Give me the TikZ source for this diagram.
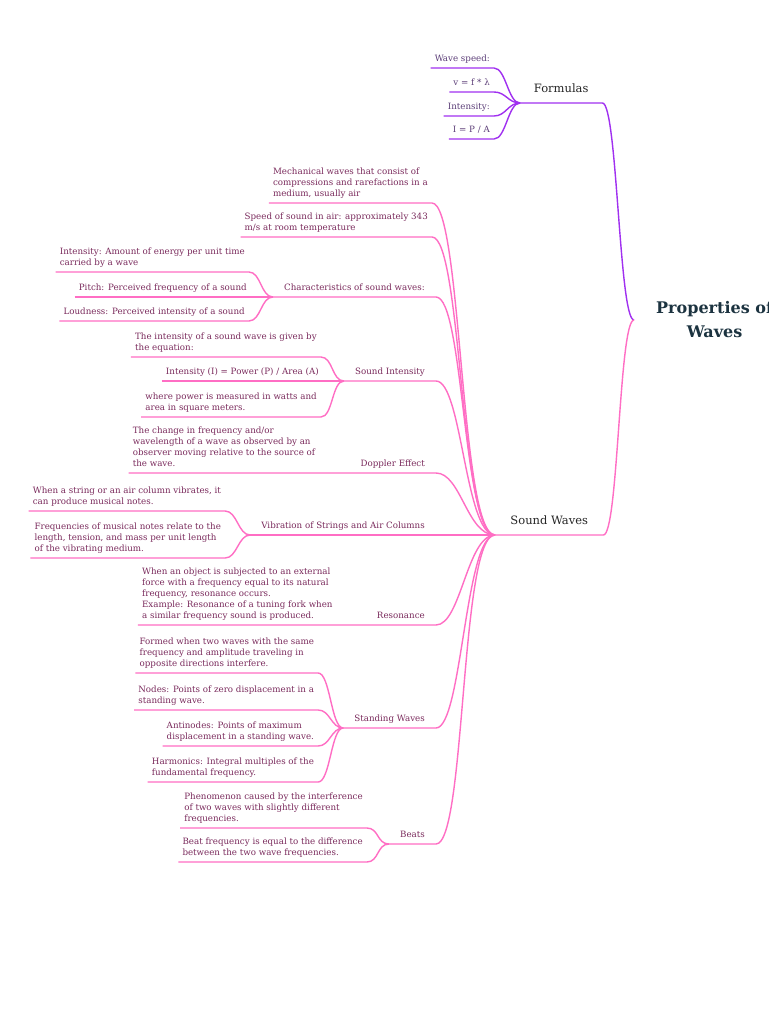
\documentclass[tikz,border=0pt]{standalone}
\usepackage{fontspec}
\setmainfont{DejaVu Serif}
\usetikzlibrary{positioning,calc}

\definecolor{mappurple}{HTML}{A030F0}
\definecolor{mappink}{HTML}{FF6EC4}
\definecolor{leafpink}{HTML}{7A2A5C}
\definecolor{leafpurple}{HTML}{5C3E78}
\definecolor{titlecol}{HTML}{1C3340}

\begin{document}
\begin{tikzpicture}[
        x=1pt, y=-1pt,
        leaf/.style={anchor=south east, align=left, inner xsep=4pt, inner ysep=4pt, text depth=2.5pt, text=leafpink, font=\fontsize{8.7}{11}\selectfont},
        fleaf/.style={leaf, text=leafpurple},
        topic/.style={leaf, inner xsep=11pt},
        main/.style={anchor=south west, inner ysep=8pt, text depth=2.5pt, text=black!85, font=\fontsize{11.5}{13}\selectfont},
        pinkline/.style={draw=mappink, line width=1.4pt},
        purpleline/.style={draw=mappurple, line width=1.4pt}
    ]

    \fill[white] (0,0) rectangle (768,1024);
    \useasboundingbox (0,0) rectangle (768,1024);

    \node[anchor=west, align=center, inner xsep=22pt, text=titlecol, font=\fontsize{16}{24}\selectfont\bfseries] (title) at (634,320) {Properties of\\Waves};
    \node[main, minimum width=82pt] (formulas) at (520,103) {Formulas};
    \node[main, minimum width=108pt] (sound) at (495,535) {Sound Waves};

    % formulas
    \node[fleaf] (wspeed) at (494,68) {Wave speed:};
    \node[fleaf] (vfl) at (494,92) {v = f * λ};
    \node[fleaf] (intens) at (494,116) {Intensity:};
    \node[fleaf] (ipa) at (494,139) {I = P / A};

    % sound waves
    \node[leaf] (mech) at (432,203) {Mechanical waves that consist of\\compressions and rarefactions in a\\medium, usually air};
    \node[leaf] (speed) at (432,237) {Speed of sound in air: approximately 343\\m/s at room temperature};
    \node[topic] (charac) at (436,297) {Characteristics of sound waves:};
    \node[topic] (intensity) at (436,381) {Sound Intensity};
    \node[topic] (doppler) at (436,473) {Doppler Effect};
    \node[topic] (vibration) at (436,535) {Vibration of Strings and Air Columns};
    \node[topic] (resonance) at (436,625) {Resonance};
    \node[topic] (standing) at (436,728) {Standing Waves};
    \node[topic] (beats) at (436,844) {Beats};

    \node[leaf] (amount) at ($(charac.south west)+(-24,-25)$) {Intensity: Amount of energy per unit time\\carried by a wave};
    \node[leaf] (pitch) at ($(charac.south west)+(-22,0)$) {Pitch: Perceived frequency of a sound};
    \node[leaf] (loud) at ($(charac.south west)+(-24,24)$) {Loudness: Perceived intensity of a sound};

    \node[leaf] (given) at ($(intensity.south west)+(-23,-24)$) {The intensity of a sound wave is given by\\the equation:};
    \node[leaf] (equation) at ($(intensity.south west)+(-21,0)$) {Intensity (I) = Power (P) / Area (A)};
    \node[leaf] (watts) at ($(intensity.south west)+(-23,36)$) {where power is measured in watts and\\area in square meters.};

    \node[leaf] (change) at ($(doppler.south west)+(-30,0)$) {The change in frequency and/or\\wavelength of a wave as observed by an\\observer moving relative to the source of\\the wave.};

    \node[leaf] (string) at ($(vibration.south west)+(-25,-24)$) {When a string or an air column vibrates, it\\can produce musical notes.};
    \node[leaf] (notes) at ($(vibration.south west)+(-25,23)$) {Frequencies of musical notes relate to the\\length, tension, and mass per unit length\\of the vibrating medium.};

    \node[leaf] (object) at ($(resonance.south west)+(-29,0)$) {When an object is subjected to an external\\force with a frequency equal to its natural\\frequency, resonance occurs.\\Example: Resonance of a tuning fork when\\a similar frequency sound is produced.};

    \node[leaf] (formed) at ($(standing.south west)+(-25,-55)$) {Formed when two waves with the same\\frequency and amplitude traveling in\\opposite directions interfere.};
    \node[leaf] (zero) at ($(standing.south west)+(-25,-18)$) {Nodes: Points of zero displacement in a\\standing wave.};
    \node[leaf] (maximum) at ($(standing.south west)+(-25,18)$) {Antinodes: Points of maximum\\displacement in a standing wave.};
    \node[leaf] (harmonics) at ($(standing.south west)+(-25,54)$) {Harmonics: Integral multiples of the\\fundamental frequency.};

    \node[leaf] (phenomenon) at ($(beats.south west)+(-22,-16)$) {Phenomenon caused by the interference\\of two waves with slightly different\\frequencies.};
    \node[leaf] (beatfreq) at ($(beats.south west)+(-22,18)$) {Beat frequency is equal to the difference\\between the two wave frequencies.};

    % main branches
    \draw[purpleline] (formulas.south west) -- (formulas.south east) .. controls +(15,0) and +(-15,0) .. (title.west);
    \draw[pinkline] (sound.south west) -- (sound.south east) .. controls +(15,0) and +(-15,0) .. (title.west);

    \draw[purpleline] (wspeed.south west) -- (wspeed.south east) .. controls +(12,0) and +(-12,0) .. (formulas.south west);
    \draw[purpleline] (vfl.south west) -- (vfl.south east) .. controls +(12,0) and +(-12,0) .. (formulas.south west);
    \draw[purpleline] (intens.south west) -- (intens.south east) .. controls +(12,0) and +(-12,0) .. (formulas.south west);
    \draw[purpleline] (ipa.south west) -- (ipa.south east) .. controls +(12,0) and +(-12,0) .. (formulas.south west);

    \draw[pinkline] (mech.south west) -- (mech.south east) .. controls +(30,0) and +(-35,0) .. (sound.south west);
    \draw[pinkline] (speed.south west) -- (speed.south east) .. controls +(30,0) and +(-35,0) .. (sound.south west);
    \draw[pinkline] (charac.south west) -- (charac.south east) .. controls +(28,0) and +(-32,0) .. (sound.south west);
    \draw[pinkline] (intensity.south west) -- (intensity.south east) .. controls +(26,0) and +(-30,0) .. (sound.south west);
    \draw[pinkline] (change.south west) -- (change.south east) -- (doppler.south west) -- (doppler.south east) .. controls +(25,0) and +(-28,0) .. (sound.south west);
    \draw[pinkline] (vibration.south west) -- (sound.south west);
    \draw[pinkline] (object.south west) -- (object.south east) -- (resonance.south west) -- (resonance.south east) .. controls +(25,0) and +(-28,0) .. (sound.south west);
    \draw[pinkline] (standing.south west) -- (standing.south east) .. controls +(26,0) and +(-30,0) .. (sound.south west);
    \draw[pinkline] (beats.south west) -- (beats.south east) .. controls +(30,0) and +(-35,0) .. (sound.south west);

    % second level
    \draw[pinkline] (amount.south west) -- (amount.south east) .. controls +(12,0) and +(-12,0) .. (charac.south west);
    \draw[pinkline] (pitch.south west) -- (charac.south west);
    \draw[pinkline] (loud.south west) -- (loud.south east) .. controls +(12,0) and +(-12,0) .. (charac.south west);
    \draw[pinkline] (given.south west) -- (given.south east) .. controls +(12,0) and +(-12,0) .. (intensity.south west);
    \draw[pinkline] (equation.south west) -- (intensity.south west);
    \draw[pinkline] (watts.south west) -- (watts.south east) .. controls +(12,0) and +(-12,0) .. (intensity.south west);
    \draw[pinkline] (string.south west) -- (string.south east) .. controls +(12,0) and +(-12,0) .. (vibration.south west);
    \draw[pinkline] (notes.south west) -- (notes.south east) .. controls +(12,0) and +(-12,0) .. (vibration.south west);
    \draw[pinkline] (formed.south west) -- (formed.south east) .. controls +(12,0) and +(-12,0) .. (standing.south west);
    \draw[pinkline] (zero.south west) -- (zero.south east) .. controls +(12,0) and +(-12,0) .. (standing.south west);
    \draw[pinkline] (maximum.south west) -- (maximum.south east) .. controls +(12,0) and +(-12,0) .. (standing.south west);
    \draw[pinkline] (harmonics.south west) -- (harmonics.south east) .. controls +(12,0) and +(-12,0) .. (standing.south west);
    \draw[pinkline] (phenomenon.south west) -- (phenomenon.south east) .. controls +(12,0) and +(-12,0) .. (beats.south west);
    \draw[pinkline] (beatfreq.south west) -- (beatfreq.south east) .. controls +(12,0) and +(-12,0) .. (beats.south west);

\end{tikzpicture}
\end{document}
